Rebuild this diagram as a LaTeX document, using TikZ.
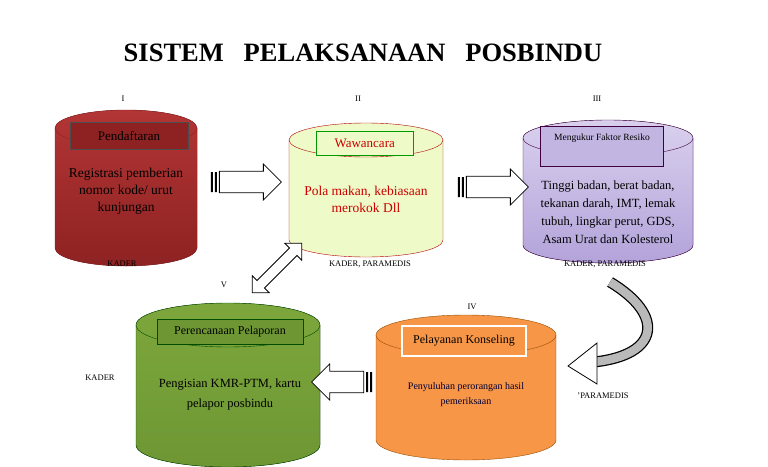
\documentclass[tikz,border=0pt]{standalone}
\usepackage{fontspec}
\setmainfont{Liberation Serif}
\usetikzlibrary{shapes.arrows}
\definecolor{cred}{HTML}{B33535}
\definecolor{credd}{HTML}{8E2222}
\definecolor{cgreen}{HTML}{EEFAC8}
\definecolor{cviol}{HTML}{C9BCE6}
\definecolor{cviold}{HTML}{B3A3DA}
\definecolor{colive}{HTML}{7DA73C}
\definecolor{coliveh}{HTML}{6E9734}
\definecolor{corng}{HTML}{F79646}
\newcommand\mycyl[8]{%
\fill[#7] (#2-#5,-#3) -- (#2-#5,-#4) arc[start angle=180,end angle=360,x radius=#5,y radius=#6] -- (#2+#5,-#3) arc[start angle=0,end angle=180,x radius=#5,y radius=#6] -- cycle;
\draw[#8] (#2-#5,-#3) -- (#2-#5,-#4) arc[start angle=180,end angle=360,x radius=#5,y radius=#6] -- (#2+#5,-#3);
\draw[#8] (#2,-#3) ellipse[x radius=#5,y radius=#6];
\node[minimum width=2*#5,minimum height=#4-#3+2*#6] (#1) at (#2,{-(#3+#4)/2}) {};}
\tikzset{lab/.style={font=\fontsize{8.5}{10}\selectfont},
 body/.style={align=center,font=\fontsize{13.5}{17}\selectfont},
 bigarrow/.style={single arrow,draw,fill=white,thick,minimum height=62,minimum width=36,single arrow head extend=3,inner sep=4}}
\begin{document}
\begin{tikzpicture}[x=1pt,y=1pt]
\useasboundingbox (0,0) rectangle (768,-466);
\node[font=\bfseries\fontsize{26.5}{28}\selectfont] (title) at (363,-53) {SISTEM\ \ \ PELAKSANAAN\ \ \ POSBINDU};
% cylinders
\mycyl{c1}{126}{128}{248}{71}{18}{top color=cred,bottom color=credd}{draw=credd}
\mycyl{c2}{366}{140}{240}{77}{17}{fill=cgreen}{draw=red!70!black}
\mycyl{c3}{608}{138}{245}{85}{18}{top color=cviol!70!white,bottom color=cviold}{draw=violet!50!black}
\mycyl{c5}{228}{325}{445}{92}{22}{top color=colive,bottom color=coliveh}{draw=green!30!black}
\mycyl{c4}{466}{335}{440}{90}{20}{fill=corng}{draw=orange!60!black}
% headers
\node[draw=black!70,fill=credd,minimum width=118,minimum height=27,font=\fontsize{13}{15}\selectfont,text=black] (h1) at (129,-136) {Pendaftaran};
\node[draw=green!60!black,fill=cgreen,minimum width=97,minimum height=24,font=\fontsize{13}{15}\selectfont,text=red!80!black,anchor=west] (h2) at (316,-143) {Wawancara};
\node[draw=violet!50!black,fill=cviold!80!white,minimum width=123,minimum height=40,text depth=18,font=\fontsize{9.5}{11}\selectfont] (h3) at (602,-146) {Mengukur Faktor Resiko};
\node[draw=green!30!black,fill=coliveh,minimum width=146,minimum height=25,font=\fontsize{12}{14}\selectfont] (h5) at (230,-332) {Perencanaan Pelaporan};
\node[draw=white,line width=1.5,fill=corng,minimum width=124,minimum height=30,font=\fontsize{12}{14}\selectfont] (h4) at (464,-341) {Pelayanan Konseling};
% bodies
\node[body,text=black] (t1) at (126,-191) {Registrasi pemberian\\nomor kode/ urut\\kunjungan};
\node[body,text=red!80!black] (t2) at (366,-199) {Pola makan, kebiasaan\\merokok Dll};
\node[body,font=\fontsize{12.5}{18}\selectfont] (t3) at (608,-212) {Tinggi badan, berat badan,\\tekanan darah, IMT, lemak\\tubuh, lingkar perut, GDS,\\Asam Urat dan Kolesterol};
\node[body,font=\fontsize{12.5}{20}\selectfont] (t5) at (230,-394) {Pengisian KMR-PTM, kartu\\pelapor posbindu};
\node[body,font=\fontsize{10}{15}\selectfont,text=blue!20!black] (t4) at (466,-395) {Penyuluhan perorangan hasil\\pemeriksaan};
% labels
\node[lab] (n1) at (123,-99) {I};
\node[lab] (n2) at (358,-99) {II};
\node[lab] (n3) at (597,-99) {III};
\node[lab] (n5) at (224,-285) {V};
\node[lab] (n4) at (472,-307) {IV};
\node[lab] (k1) at (122,-264) {KADER};
\node[lab] (k2) at (370,-264) {KADER, PARAMEDIS};
\node[lab] (k3) at (605,-264) {KADER, PARAMEDIS};
\node[lab] (k5) at (100,-378) {KADER};
\node[lab] (k4) at (603,-396) {'PARAMEDIS};
% arrows
\node[bigarrow] (a1) at (245,-182) {};
\node[bigarrow] (a2) at (492,-187) {};
\node[bigarrow,shape border rotate=180,minimum height=52] (a3) at (343,-382) {};
\foreach \a in {a1,a2}{
 \fill ([xshift=-1]\a.tail) ++(-1,-10) rectangle ++(-2,20) ++(-2,-20) rectangle ++(-2,20);}
\fill ([xshift=1]a3.tail) ++(1,-10) rectangle ++(2,20) ++(2,-20) rectangle ++(2,20);
\node[double arrow,draw,fill=white,thick,rotate=45,minimum height=70,minimum width=24,double arrow head extend=3,inner sep=2] (a5) at (277,-268) {};
% curved arrow
\draw[line width=11,black] (610,-282) .. controls (665,-315) and (660,-355) .. (594,-362);
\draw[line width=8.5,gray!55] (610,-282) .. controls (665,-315) and (660,-355) .. (594,-362);
\draw[thick,fill=white] (597,-343) -- (568,-366) -- (597,-384) -- cycle;
\coordinate (ce) at (568,-366);
\end{tikzpicture}
\end{document}
